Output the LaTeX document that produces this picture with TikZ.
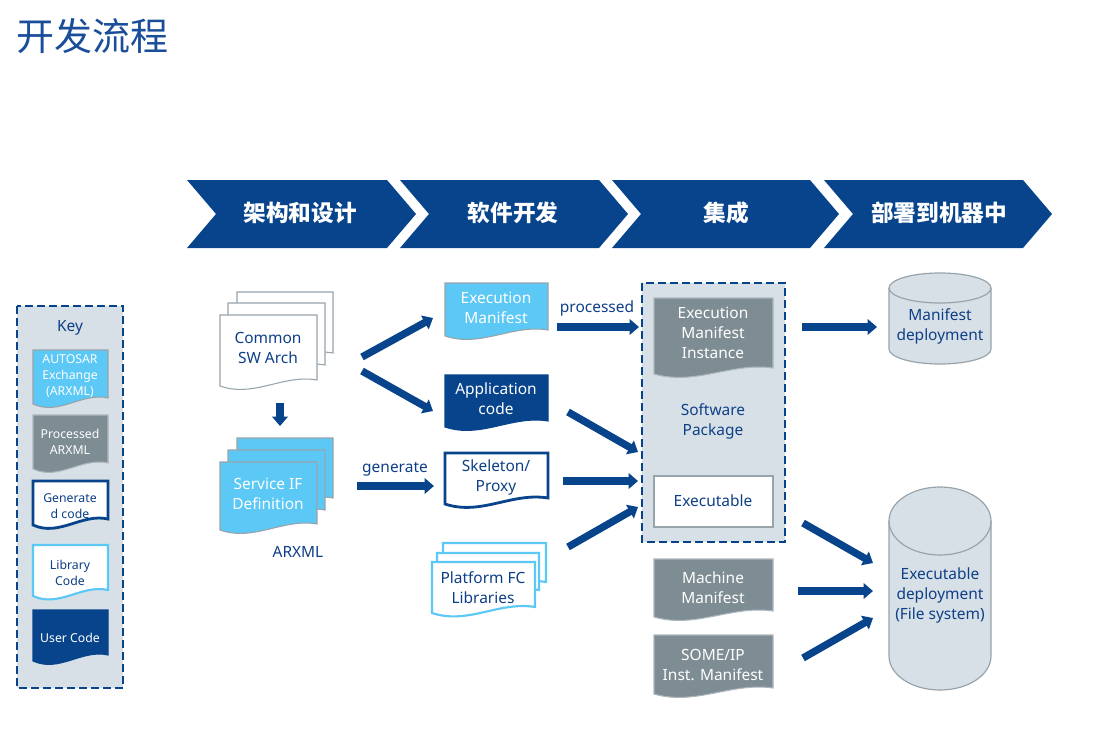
\documentclass[tikz,border=0pt]{standalone}
\usepackage{fontspec}
\setmainfont{Noto Sans}
\newfontfamily\cjk{Noto Sans CJK SC}
\usetikzlibrary{arrows.meta}
\definecolor{dblue}{HTML}{07448C}
\definecolor{lblue}{HTML}{5BC8F5}
\definecolor{gdoc}{HTML}{7E8C94}
\definecolor{pale}{HTML}{D8E0E7}
\definecolor{bord}{HTML}{98A4AB}
\definecolor{tblue}{HTML}{0D3F87}
\definecolor{titleblue}{HTML}{1A4E9A}
% document shape with wavy bottom: x1,y1,x2,bottom,style
\newcommand\docshape[5]{\path[#5] (#1,#2) -- (#3,#2) -- (#3,{#4-10}) .. controls ({#1+0.65*(#3-#1)},{#4-16}) and ({#1+0.35*(#3-#1)},{#4+8}) .. (#1,{#4-4}) -- cycle;}
% chevron: left, right
\newcommand\chevron[2]{\path[fill=dblue] (#1,180) -- (#2,180) -- ({#2+29},214) -- (#2,248) -- (#1,248) -- ({#1+29},214) -- cycle;}
% cylinder: x1,x2,ytop,ybot,ry
\newcommand\cylinder[5]{%
\path[fill=pale,draw=bord,line width=0.9pt] (#1,{#3+#5}) -- (#1,{#4-#5}) arc[start angle=180,end angle=0,x radius={(#2-#1)/2},y radius=#5] -- (#2,{#3+#5}) arc[start angle=0,end angle=-180,x radius={(#2-#1)/2},y radius=#5] -- cycle;
\draw[bord,line width=0.9pt] (#1,{#3+#5}) arc[start angle=180,end angle=0,x radius={(#2-#1)/2},y radius=#5];}
\begin{document}
\begin{tikzpicture}[x=0.75pt,y=-0.75pt,
  arr/.style={draw=dblue,line width=5.5pt,-{Triangle[length=7pt,width=11.5pt]}},
  lbl/.style={text=tblue,font=\fontsize{11.6}{15}\selectfont,align=center,inner sep=0pt},
  wlbl/.style={lbl,text=white},
  klbl/.style={text=tblue,font=\fontsize{9.2}{11.8}\selectfont,align=center,inner sep=0pt},
  kwlbl/.style={klbl,text=white},
  chevtext/.style={text=white,font=\cjk\bfseries\fontsize{17}{20}\selectfont,inner sep=0pt},
  docLB/.style={fill=lblue,draw=bord,line width=0.8pt},
  docGR/.style={fill=gdoc,draw=bord!80!white,line width=0.8pt},
  docGEN/.style={fill=white,draw=dblue,line width=2.1pt},
  docLIB/.style={fill=white,draw=lblue,line width=1.6pt},
  docUSR/.style={fill=dblue,draw=dblue,line width=0.8pt},
  docW/.style={fill=white,draw=bord,line width=0.8pt},
  dashbox/.style={fill=pale,draw=dblue,line width=1.4pt,dash pattern=on 6pt off 3pt}]
\useasboundingbox (0,0) rectangle (1096,732);
\fill[white] (0,0) rectangle (1096,732);

% title
\node[anchor=west,inner sep=0pt,text=titleblue,font=\cjk\fontsize{28.5}{31}\selectfont] (title) at (16,36) {开发流程};

% chevrons
\chevron{187}{387}
\chevron{400}{599}
\chevron{612}{810}
\chevron{824}{1023}
\node[chevtext] (c1) at (300,213) {架构和设计};
\node[chevtext] (c2) at (513,213) {软件开发};
\node[chevtext] (c3) at (726,213) {集成};
\node[chevtext] (c4) at (939,213) {部署到机器中};

% key
\path[dashbox] (17,306) rectangle (123,688);
\node[lbl] (key) at (70,328) {Key};
\docshape{33}{350}{108}{408}{docLB}
\node[kwlbl] (k1) at (70,376) {AUTOSAR\\Exchange\\(ARXML)};
\docshape{33}{415}{108}{473}{docGR}
\node[kwlbl] (k2) at (70,442) {Processed\\ARXML};
\docshape{33}{481}{108}{529}{docGEN}
\node[klbl] (k3) at (70,506) {Generate\\d code};
\docshape{33}{545}{108}{600}{docLIB}
\node[klbl] (k4) at (70,573) {Library\\Code};
\docshape{33}{610}{108}{665}{docUSR}
\node[kwlbl] (k5) at (70,638) {User Code};

% Common SW Arch stack
\docshape{237}{292}{333}{363}{docW}
\docshape{228}{303}{325}{375}{docW}
\docshape{220}{315}{317}{390}{docW}
\node[lbl] (common) at (268,348) {Common\\SW Arch};

% Service IF Definition stack
\docshape{237}{438}{333}{508}{docLB}
\docshape{228}{450}{325}{520}{docLB}
\docshape{220}{462}{317}{534}{docLB}
\node[wlbl] (svc) at (268,494) {Service IF\\Definition};
\node[lbl] (arxml) at (298,552) {ARXML};

% middle column
\docshape{445}{283}{548}{340}{docLB}
\node[wlbl] (em) at (496,308) {Execution\\Manifest};
\docshape{445}{375}{548}{431}{docUSR}
\node[wlbl] (app) at (496,399) {Application\\code};
\docshape{445}{453}{548}{508}{docGEN}
\node[lbl] (skel) at (496,477) {Skeleton/\\Proxy};
\docshape{443}{543}{546}{592}{docLIB}
\docshape{437}{553}{539}{600}{docLIB}
\docshape{432}{562}{535}{617}{docLIB}
\node[lbl] (pfc) at (483,588) {Platform FC\\Libraries};

% software package
\path[dashbox] (642,283) rectangle (785,542);
\docshape{654}{298}{773}{378}{docGR}
\node[wlbl] (emi) at (713,333) {Execution\\Manifest\\Instance};
\node[lbl] (swp) at (713,421) {Software\\Package};
\path[fill=white,draw=bord,line width=0.8pt] (654,476) rectangle (773,527);
\node[lbl] (exe) at (713,501) {Executable};
\docshape{654}{559}{773}{621}{docGR}
\node[wlbl] (mm) at (713,588) {Machine\\Manifest};
\docshape{654}{635}{773}{698}{docGR}
\node[wlbl] (someip) at (713,665) {SOME/IP\\Inst. Manifest};

% cylinders
\cylinder{889}{991}{273}{364}{15}
\node[lbl] (mdep) at (940,326) {Manifest\\deployment};
\cylinder{889}{991}{487}{690}{34}
\node[lbl] (edep) at (940,595) {Executable\\deployment\\(File system)};

% connector labels
\node[lbl] (gen) at (395,469) {generate};
\node[lbl] (proc) at (597,308) {processed};

% connector end points
\coordinate (d1) at (280,403);  \coordinate (d2) at (280,426);
\coordinate (a1) at (362,357);  \coordinate (a1e) at (433,318);
\coordinate (a2) at (362,371);  \coordinate (a2e) at (433,411);
\coordinate (g1) at (357,486);  \coordinate (g1e) at (434,486);
\coordinate (p1) at (557,327);  \coordinate (p1e) at (639,327);
\coordinate (b1) at (568,412);  \coordinate (b1e) at (638,452);
\coordinate (b2) at (563,481);  \coordinate (b2e) at (638,481);
\coordinate (b3) at (568,547);  \coordinate (b3e) at (638,507);
\coordinate (m1) at (802,327);  \coordinate (m1e) at (877,327);
\coordinate (e1) at (803,523);  \coordinate (e1e) at (873,563);
\coordinate (e2) at (798,591);  \coordinate (e2e) at (873,591);
\coordinate (e3) at (803,658);  \coordinate (e3e) at (873,618);

\draw[arr] (d1) -- (d2);
\draw[arr] (a1) -- (a1e);
\draw[arr] (a2) -- (a2e);
\draw[arr] (g1) -- (g1e);
\draw[arr] (p1) -- (p1e);
\draw[arr] (b1) -- (b1e);
\draw[arr] (b2) -- (b2e);
\draw[arr] (b3) -- (b3e);
\draw[arr] (m1) -- (m1e);
\draw[arr] (e1) -- (e1e);
\draw[arr] (e2) -- (e2e);
\draw[arr] (e3) -- (e3e);
\end{tikzpicture}
\end{document}
